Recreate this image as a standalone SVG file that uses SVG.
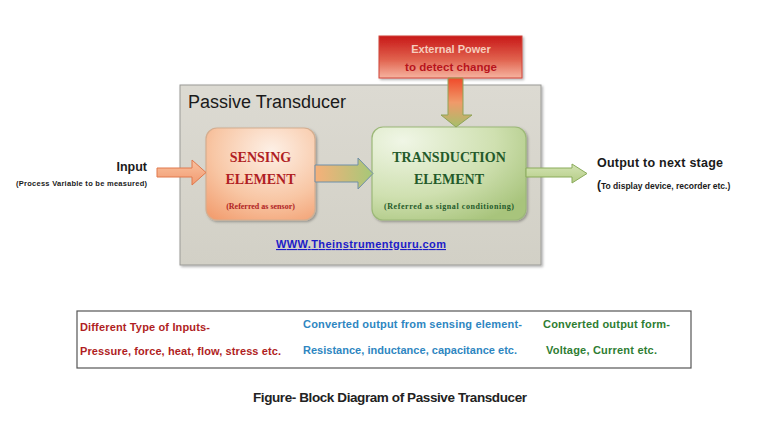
<svg xmlns="http://www.w3.org/2000/svg" width="768" height="440" viewBox="0 0 768 440">
<defs>
<style>
.sans{font-family:"Liberation Sans",Arial,sans-serif;font-weight:bold}
.serif{font-family:"Liberation Serif","Times New Roman",serif;font-weight:bold}
.red{fill:#b01e23}
.blue{fill:#2e86c1}
.green{fill:#2e7d32}
.dark{fill:#1a1a1a}
</style>
<linearGradient id="gPassive" x1="0" y1="0" x2="0" y2="1">
<stop offset="0" stop-color="#dcdad2"/><stop offset="1" stop-color="#d2d0c6"/>
</linearGradient>
<linearGradient id="gExt" x1="0" y1="0" x2="0" y2="1">
<stop offset="0" stop-color="#c81818"/><stop offset="0.55" stop-color="#e0604c"/><stop offset="1" stop-color="#f6b4a0"/>
</linearGradient>
<radialGradient id="gSense" cx="0.6" cy="0.25" r="0.9">
<stop offset="0" stop-color="#fdf0e6"/><stop offset="0.6" stop-color="#f8c6a4"/><stop offset="1" stop-color="#f29e70"/>
</radialGradient>
<radialGradient id="gTrans" cx="0.2" cy="0.15" r="1">
<stop offset="0" stop-color="#f0f6e6"/><stop offset="0.6" stop-color="#cfe0b0"/><stop offset="1" stop-color="#a8c47c"/>
</radialGradient>
<linearGradient id="gDown" x1="0" y1="0" x2="0" y2="1">
<stop offset="0" stop-color="#f04a2a"/><stop offset="0.5" stop-color="#f09a6a"/><stop offset="1" stop-color="#a6bf6a"/>
</linearGradient>
<linearGradient id="gMid" x1="0" y1="0" x2="1" y2="0">
<stop offset="0" stop-color="#f6b07a"/><stop offset="1" stop-color="#a6c878"/>
</linearGradient>
<linearGradient id="gIn" x1="0" y1="0" x2="0" y2="1">
<stop offset="0" stop-color="#f9c2a0"/><stop offset="1" stop-color="#f29a70"/>
</linearGradient>
<linearGradient id="gOut" x1="0" y1="0" x2="0" y2="1">
<stop offset="0" stop-color="#d4e4b4"/><stop offset="1" stop-color="#b4cc86"/>
</linearGradient>
<filter id="sh" x="-10%" y="-10%" width="130%" height="130%">
<feDropShadow dx="1.5" dy="1.5" stdDeviation="1.2" flood-color="#000" flood-opacity="0.3"/>
</filter>
</defs>
<rect width="768" height="440" fill="#ffffff"/>

<g id="passive-transducer">
<rect x="180" y="85" width="361" height="180" fill="url(#gPassive)" stroke="#9a9a96" stroke-width="1" filter="url(#sh)"/>
<text x="188" y="108" class="sans dark" font-size="18" style="font-weight:normal">Passive Transducer</text>
<text x="361" y="248" class="sans" font-size="11" fill="#1c1cc8" text-anchor="middle" text-decoration="underline" textLength="170">WWW.Theinstrumentguru.com</text>
</g>

<g id="external-power">
<rect x="379" y="36" width="143" height="42" fill="url(#gExt)" stroke="#d0453a" stroke-width="1" filter="url(#sh)"/>
<text x="451" y="53" class="sans" font-size="11" fill="#f6cdbd" text-anchor="middle">External Power</text>
<text x="451" y="71" class="sans" font-size="11.5" fill="#b8141c" text-anchor="middle" textLength="92">to detect change</text>
</g>

<g id="sensing-element">
<rect x="206" y="128" width="109" height="92" rx="11" fill="url(#gSense)" stroke="#d4ae90" stroke-width="1.2" filter="url(#sh)"/>
<text x="260.5" y="162" class="serif red" font-size="14" text-anchor="middle">SENSING</text>
<text x="260.5" y="184" class="serif red" font-size="14" text-anchor="middle">ELEMENT</text>
<text x="260.5" y="209" class="serif red" font-size="8" text-anchor="middle">(Referred as sensor)</text>
</g>

<g id="transduction-element">
<rect x="372" y="127" width="154" height="93" rx="11" fill="url(#gTrans)" stroke="#9cb878" stroke-width="1.2" filter="url(#sh)"/>
<text x="449" y="162" class="serif" font-size="14" fill="#245a2a" text-anchor="middle">TRANSDUCTION</text>
<text x="449" y="184" class="serif" font-size="14" fill="#245a2a" text-anchor="middle">ELEMENT</text>
<text x="449" y="209" class="serif" font-size="8" fill="#245a2a" text-anchor="middle" textLength="130">(Referred as signal conditioning)</text>
</g>

<g id="input-label">
<text x="147" y="171" class="sans dark" font-size="12.5" text-anchor="end">Input</text>
<text x="147" y="186" class="sans dark" font-size="7.5" text-anchor="end" textLength="131">(Process Variable to be measured)</text>
</g>

<g id="output-label">
<text x="597" y="167" class="sans dark" font-size="12.5" textLength="126">Output to next stage</text>
<text x="597" y="189" class="sans dark"><tspan font-size="12">(</tspan><tspan font-size="8.5">To display device, recorder etc.)</tspan></text>
</g>

<g id="connectors">
<polygon points="157,168 192,168 192,160 206,172.5 192,185 192,177 157,177" fill="url(#gIn)" stroke="#e0784c" stroke-width="1"/>
<polygon points="315,165 358,165 358,158 373,173.5 358,189 358,182 315,182" fill="url(#gMid)" stroke="#6f8fa8" stroke-width="1"/>
<polygon points="448,78 463,78 463,115 472,115 456,127 441,115 448,115" fill="url(#gDown)" stroke="#8fa458" stroke-width="1"/>
<polygon points="526,168 572,168 572,164 587,173.5 572,183 572,177 526,177" fill="url(#gOut)" stroke="#8aab5a" stroke-width="1"/>
</g>

<g id="legend-table">
<rect x="77" y="311" width="614" height="57" fill="#ffffff" stroke="#555555" stroke-width="1.2"/>
<text x="80" y="331" class="sans red" font-size="11" textLength="130">Different Type of Inputs-</text>
<text x="80" y="355" class="sans red" font-size="11" textLength="201">Pressure, force, heat, flow, stress etc.</text>
<text x="303" y="328" class="sans blue" font-size="11" textLength="219">Converted output from sensing element-</text>
<text x="303" y="354" class="sans blue" font-size="11" textLength="214">Resistance, inductance, capacitance etc.</text>
<text x="543" y="328" class="sans green" font-size="11" textLength="127">Converted output form-</text>
<text x="546" y="354" class="sans green" font-size="11" textLength="111">Voltage, Current etc.</text>
</g>

<g id="caption">
<text x="390" y="402" class="sans" font-size="13.5" fill="#222222" text-anchor="middle" textLength="274">Figure- Block Diagram of Passive Transducer</text>
</g>
</svg>
